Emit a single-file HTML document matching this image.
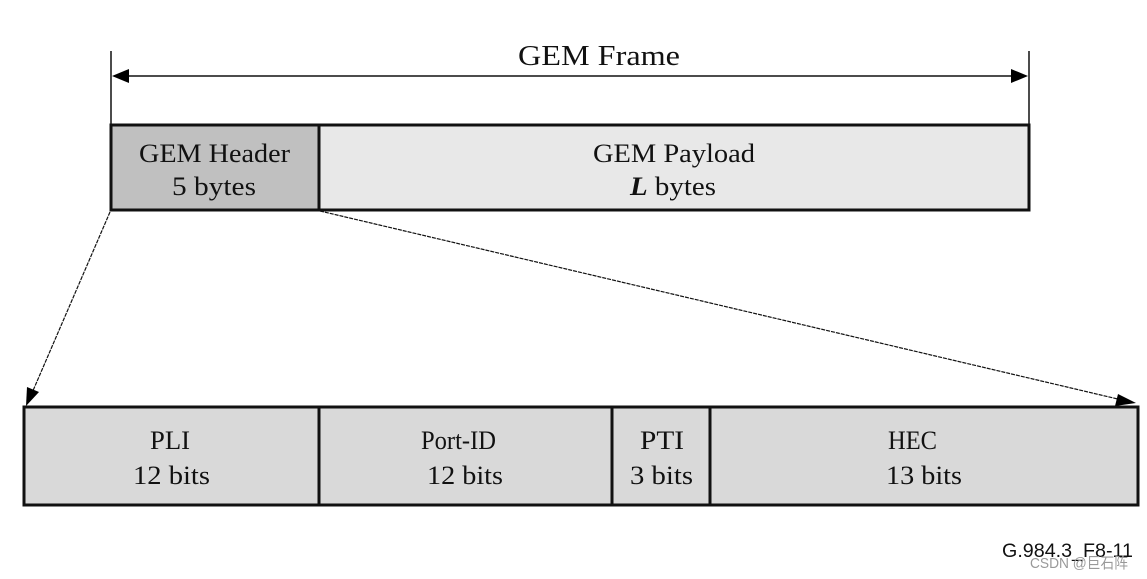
<!DOCTYPE html>
<html><head><meta charset="utf-8"><style>
html,body{margin:0;padding:0;background:#fff;}
svg{display:block;}
text{font-family:"Liberation Serif",serif;fill:#111;}
</style></head><body>
<svg width="1147" height="579" viewBox="0 0 1147 579" xmlns="http://www.w3.org/2000/svg">
<line x1="111" y1="51" x2="111" y2="125" stroke="#111" stroke-width="1.5"/>
<line x1="1029" y1="51" x2="1029" y2="125" stroke="#111" stroke-width="1.5"/>
<line x1="125" y1="76" x2="1015" y2="76" stroke="#111" stroke-width="1.5"/>
<polygon points="112,76 129,69 129,83" fill="#000"/>
<polygon points="1028,76 1011,69 1011,83" fill="#000"/>
<text x="518" y="65" font-size="28" textLength="162" lengthAdjust="spacingAndGlyphs">GEM Frame</text>
<rect x="111" y="125" width="208" height="85" fill="#c0c0c0" stroke="#111" stroke-width="3"/>
<rect x="319" y="125" width="710" height="85" fill="#e8e8e8" stroke="#111" stroke-width="3"/>
<text x="139" y="162" font-size="26" textLength="151" lengthAdjust="spacingAndGlyphs">GEM Header</text>
<text x="172" y="195" font-size="26" textLength="84" lengthAdjust="spacingAndGlyphs">5 bytes</text>
<text x="593" y="162" font-size="26" textLength="162" lengthAdjust="spacingAndGlyphs">GEM Payload</text>
<text x="630" y="195" font-size="26" textLength="86" lengthAdjust="spacingAndGlyphs"><tspan font-weight="bold" font-style="italic">L</tspan> bytes</text>
<line x1="110" y1="212" x2="32" y2="393" stroke="#111" stroke-width="1.2" stroke-dasharray="4,1"/>
<polygon points="26,406 27,387 39,392" fill="#000"/>
<line x1="320" y1="211" x2="1122" y2="400" stroke="#111" stroke-width="1.2" stroke-dasharray="4,1"/>
<polygon points="1136,403 1118,394 1115,406" fill="#000"/>
<rect x="24" y="407" width="1114" height="98" fill="#d9d9d9" stroke="#111" stroke-width="3"/>
<line x1="319" y1="407" x2="319" y2="505" stroke="#111" stroke-width="3"/>
<line x1="612" y1="407" x2="612" y2="505" stroke="#111" stroke-width="3"/>
<line x1="710" y1="407" x2="710" y2="505" stroke="#111" stroke-width="3"/>
<text x="150" y="449" font-size="26" textLength="40" lengthAdjust="spacingAndGlyphs">PLI</text>
<text x="133" y="484" font-size="26" textLength="77" lengthAdjust="spacingAndGlyphs">12 bits</text>
<text x="421" y="449" font-size="26" textLength="75" lengthAdjust="spacingAndGlyphs">Port-ID</text>
<text x="427" y="484" font-size="26" textLength="76" lengthAdjust="spacingAndGlyphs">12 bits</text>
<text x="640" y="449" font-size="26" textLength="44" lengthAdjust="spacingAndGlyphs">PTI</text>
<text x="630" y="484" font-size="26" textLength="63" lengthAdjust="spacingAndGlyphs">3 bits</text>
<text x="888" y="449" font-size="26" textLength="49" lengthAdjust="spacingAndGlyphs">HEC</text>
<text x="886" y="484" font-size="26" textLength="76" lengthAdjust="spacingAndGlyphs">13 bits</text>
<text x="1002" y="557" font-size="19" textLength="131" lengthAdjust="spacingAndGlyphs" style="font-family:'Liberation Sans',sans-serif">G.984.3_F8-11</text>
<text x="1030" y="568" font-size="15" textLength="98" lengthAdjust="spacingAndGlyphs" style="font-family:'Liberation Sans','Noto Sans CJK SC',sans-serif;fill:#999">CSDN @巨石阵</text>
</svg>
</body></html>
